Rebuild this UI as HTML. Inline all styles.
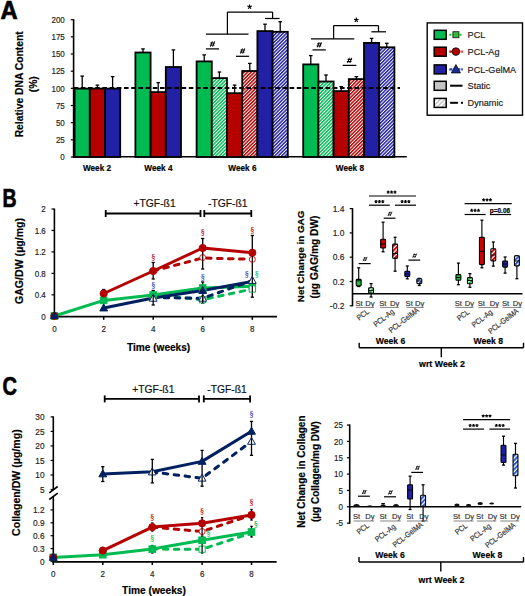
<!DOCTYPE html><html><head><meta charset="utf-8"><style>html,body{margin:0;padding:0;background:#fff;}svg{display:block;font-family:"Liberation Sans",sans-serif;}</style></head><body>
<svg width="525" height="596" viewBox="0 0 525 596">
<defs>
<pattern id="hg" patternUnits="userSpaceOnUse" width="2.45" height="2.45" patternTransform="rotate(45)"><rect width="2.45" height="2.45" fill="#fff"/><rect width="1.47" height="2.45" fill="#00BA52"/></pattern>
<pattern id="hr" patternUnits="userSpaceOnUse" width="2.45" height="2.45" patternTransform="rotate(45)"><rect width="2.45" height="2.45" fill="#fff"/><rect width="1.47" height="2.45" fill="#B50000"/></pattern>
<pattern id="hb" patternUnits="userSpaceOnUse" width="2.45" height="2.45" patternTransform="rotate(45)"><rect width="2.45" height="2.45" fill="#fff"/><rect width="1.47" height="2.45" fill="#2220A4"/></pattern>
<pattern id="hgray" patternUnits="userSpaceOnUse" width="3.2" height="3.2" patternTransform="rotate(45)"><rect width="3.2" height="3.2" fill="#fff"/><rect width="1.60" height="3.2" fill="#c8c8c8"/></pattern>
<pattern id="bhg" patternUnits="userSpaceOnUse" width="3.2" height="3.2" patternTransform="rotate(45)"><rect width="3.2" height="3.2" fill="#fff"/><rect width="1.98" height="3.2" fill="#1CC038"/></pattern>
<pattern id="bhr" patternUnits="userSpaceOnUse" width="3.2" height="3.2" patternTransform="rotate(45)"><rect width="3.2" height="3.2" fill="#fff"/><rect width="1.98" height="3.2" fill="#CC0000"/></pattern>
<pattern id="bhb" patternUnits="userSpaceOnUse" width="3.2" height="3.2" patternTransform="rotate(45)"><rect width="3.2" height="3.2" fill="#fff"/><rect width="1.98" height="3.2" fill="#2A5CD0"/></pattern>
</defs>
<rect width="525" height="596" fill="#fff"/>
<text transform="translate(9.10,10.30) scale(0.95,1)" font-size="25" font-weight="bold" text-anchor="middle" dominant-baseline="central" fill="#000" stroke="#000" stroke-width="0.7" >A</text>
<line x1="73.60" y1="19.20" x2="73.60" y2="157.80" stroke="#000" stroke-width="1.6" />
<line x1="72.80" y1="156.80" x2="406.80" y2="156.80" stroke="#000" stroke-width="1.6" />
<line x1="70.80" y1="157.00" x2="73.60" y2="157.00" stroke="#000" stroke-width="1.2" />
<text transform="translate(64.80,157.00) scale(0.87,1)" font-size="9.2" font-weight="normal" text-anchor="end" dominant-baseline="central" fill="#222" stroke="#222" stroke-width="0.18" >0</text>
<line x1="70.80" y1="139.84" x2="73.60" y2="139.84" stroke="#000" stroke-width="1.2" />
<text transform="translate(64.80,139.84) scale(0.87,1)" font-size="9.2" font-weight="normal" text-anchor="end" dominant-baseline="central" fill="#222" stroke="#222" stroke-width="0.18" >25</text>
<line x1="70.80" y1="122.67" x2="73.60" y2="122.67" stroke="#000" stroke-width="1.2" />
<text transform="translate(64.80,122.67) scale(0.87,1)" font-size="9.2" font-weight="normal" text-anchor="end" dominant-baseline="central" fill="#222" stroke="#222" stroke-width="0.18" >50</text>
<line x1="70.80" y1="105.51" x2="73.60" y2="105.51" stroke="#000" stroke-width="1.2" />
<text transform="translate(64.80,105.51) scale(0.87,1)" font-size="9.2" font-weight="normal" text-anchor="end" dominant-baseline="central" fill="#222" stroke="#222" stroke-width="0.18" >75</text>
<line x1="70.80" y1="88.35" x2="73.60" y2="88.35" stroke="#000" stroke-width="1.2" />
<text transform="translate(64.80,88.35) scale(0.87,1)" font-size="9.2" font-weight="normal" text-anchor="end" dominant-baseline="central" fill="#222" stroke="#222" stroke-width="0.18" >100</text>
<line x1="70.80" y1="71.19" x2="73.60" y2="71.19" stroke="#000" stroke-width="1.2" />
<text transform="translate(64.80,71.19) scale(0.87,1)" font-size="9.2" font-weight="normal" text-anchor="end" dominant-baseline="central" fill="#222" stroke="#222" stroke-width="0.18" >125</text>
<line x1="70.80" y1="54.02" x2="73.60" y2="54.02" stroke="#000" stroke-width="1.2" />
<text transform="translate(64.80,54.02) scale(0.87,1)" font-size="9.2" font-weight="normal" text-anchor="end" dominant-baseline="central" fill="#222" stroke="#222" stroke-width="0.18" >150</text>
<line x1="70.80" y1="36.86" x2="73.60" y2="36.86" stroke="#000" stroke-width="1.2" />
<text transform="translate(64.80,36.86) scale(0.87,1)" font-size="9.2" font-weight="normal" text-anchor="end" dominant-baseline="central" fill="#222" stroke="#222" stroke-width="0.18" >175</text>
<line x1="70.80" y1="19.70" x2="73.60" y2="19.70" stroke="#000" stroke-width="1.2" />
<text transform="translate(64.80,19.70) scale(0.87,1)" font-size="9.2" font-weight="normal" text-anchor="end" dominant-baseline="central" fill="#222" stroke="#222" stroke-width="0.18" >200</text>
<text transform="translate(19.00,84.30) rotate(-90)" font-size="10.3" font-weight="bold" text-anchor="middle" dominant-baseline="central" fill="#000" stroke="#000" stroke-width="0.18">Relative DNA Content</text>
<text transform="translate(33.00,84.30) rotate(-90)" font-size="10.3" font-weight="bold" text-anchor="middle" dominant-baseline="central" fill="#000" stroke="#000" stroke-width="0.18">(%)</text>
<line x1="82.20" y1="88.60" x2="82.20" y2="76.10" stroke="#000" stroke-width="1.3" />
<line x1="80.40" y1="76.10" x2="84.00" y2="76.10" stroke="#000" stroke-width="1.3" />
<rect x="74.60" y="88.60" width="15.20" height="68.40" fill="#00BA52" stroke="#000" stroke-width="1.8"/>
<line x1="97.40" y1="88.60" x2="97.40" y2="85.10" stroke="#000" stroke-width="1.3" />
<line x1="95.60" y1="85.10" x2="99.20" y2="85.10" stroke="#000" stroke-width="1.3" />
<rect x="89.80" y="88.60" width="15.20" height="68.40" fill="#B50000" stroke="#000" stroke-width="1.8"/>
<line x1="112.60" y1="88.60" x2="112.60" y2="76.60" stroke="#000" stroke-width="1.3" />
<line x1="110.80" y1="76.60" x2="114.40" y2="76.60" stroke="#000" stroke-width="1.3" />
<rect x="105.00" y="88.60" width="15.20" height="68.40" fill="#2220A4" stroke="#000" stroke-width="1.8"/>
<line x1="143.00" y1="52.50" x2="143.00" y2="48.90" stroke="#000" stroke-width="1.3" />
<line x1="141.20" y1="48.90" x2="144.80" y2="48.90" stroke="#000" stroke-width="1.3" />
<rect x="135.40" y="52.50" width="15.20" height="104.50" fill="#00BA52" stroke="#000" stroke-width="1.8"/>
<line x1="158.20" y1="92.10" x2="158.20" y2="82.60" stroke="#000" stroke-width="1.3" />
<line x1="156.40" y1="82.60" x2="160.00" y2="82.60" stroke="#000" stroke-width="1.3" />
<rect x="150.60" y="92.10" width="15.20" height="64.90" fill="#B50000" stroke="#000" stroke-width="1.8"/>
<line x1="173.40" y1="67.00" x2="173.40" y2="49.90" stroke="#000" stroke-width="1.3" />
<line x1="171.60" y1="49.90" x2="175.20" y2="49.90" stroke="#000" stroke-width="1.3" />
<rect x="165.80" y="67.00" width="15.20" height="90.00" fill="#2220A4" stroke="#000" stroke-width="1.8"/>
<line x1="204.20" y1="61.40" x2="204.20" y2="54.90" stroke="#000" stroke-width="1.3" />
<line x1="202.40" y1="54.90" x2="206.00" y2="54.90" stroke="#000" stroke-width="1.3" />
<rect x="196.60" y="61.40" width="15.20" height="95.60" fill="#00BA52" stroke="#000" stroke-width="1.8"/>
<line x1="219.40" y1="78.10" x2="219.40" y2="72.00" stroke="#000" stroke-width="1.3" />
<line x1="217.60" y1="72.00" x2="221.20" y2="72.00" stroke="#000" stroke-width="1.3" />
<rect x="211.80" y="78.10" width="15.20" height="78.90" fill="url(#hg)" stroke="#000" stroke-width="1.8"/>
<line x1="234.60" y1="93.20" x2="234.60" y2="85.10" stroke="#000" stroke-width="1.3" />
<line x1="232.80" y1="85.10" x2="236.40" y2="85.10" stroke="#000" stroke-width="1.3" />
<rect x="227.00" y="93.20" width="15.20" height="63.80" fill="#B50000" stroke="#000" stroke-width="1.8"/>
<line x1="249.80" y1="71.00" x2="249.80" y2="63.40" stroke="#000" stroke-width="1.3" />
<line x1="248.00" y1="63.40" x2="251.60" y2="63.40" stroke="#000" stroke-width="1.3" />
<rect x="242.20" y="71.00" width="15.20" height="86.00" fill="url(#hr)" stroke="#000" stroke-width="1.8"/>
<line x1="265.00" y1="31.10" x2="265.00" y2="24.20" stroke="#000" stroke-width="1.3" />
<line x1="263.20" y1="24.20" x2="266.80" y2="24.20" stroke="#000" stroke-width="1.3" />
<rect x="257.40" y="31.10" width="15.20" height="125.90" fill="#2220A4" stroke="#000" stroke-width="1.8"/>
<line x1="280.20" y1="31.80" x2="280.20" y2="21.70" stroke="#000" stroke-width="1.3" />
<line x1="278.40" y1="21.70" x2="282.00" y2="21.70" stroke="#000" stroke-width="1.3" />
<rect x="272.60" y="31.80" width="15.20" height="125.20" fill="url(#hb)" stroke="#000" stroke-width="1.8"/>
<line x1="310.80" y1="64.40" x2="310.80" y2="55.60" stroke="#000" stroke-width="1.3" />
<line x1="309.00" y1="55.60" x2="312.60" y2="55.60" stroke="#000" stroke-width="1.3" />
<rect x="303.20" y="64.40" width="15.20" height="92.60" fill="#00BA52" stroke="#000" stroke-width="1.8"/>
<line x1="326.00" y1="81.50" x2="326.00" y2="75.00" stroke="#000" stroke-width="1.3" />
<line x1="324.20" y1="75.00" x2="327.80" y2="75.00" stroke="#000" stroke-width="1.3" />
<rect x="318.40" y="81.50" width="15.20" height="75.50" fill="url(#hg)" stroke="#000" stroke-width="1.8"/>
<line x1="341.20" y1="91.10" x2="341.20" y2="86.60" stroke="#000" stroke-width="1.3" />
<line x1="339.40" y1="86.60" x2="343.00" y2="86.60" stroke="#000" stroke-width="1.3" />
<rect x="333.60" y="91.10" width="15.20" height="65.90" fill="#B50000" stroke="#000" stroke-width="1.8"/>
<line x1="356.40" y1="79.10" x2="356.40" y2="76.60" stroke="#000" stroke-width="1.3" />
<line x1="354.60" y1="76.60" x2="358.20" y2="76.60" stroke="#000" stroke-width="1.3" />
<rect x="348.80" y="79.10" width="15.20" height="77.90" fill="url(#hr)" stroke="#000" stroke-width="1.8"/>
<line x1="371.60" y1="42.90" x2="371.60" y2="38.40" stroke="#000" stroke-width="1.3" />
<line x1="369.80" y1="38.40" x2="373.40" y2="38.40" stroke="#000" stroke-width="1.3" />
<rect x="364.00" y="42.90" width="15.20" height="114.10" fill="#2220A4" stroke="#000" stroke-width="1.8"/>
<line x1="386.80" y1="47.30" x2="386.80" y2="43.30" stroke="#000" stroke-width="1.3" />
<line x1="385.00" y1="43.30" x2="388.60" y2="43.30" stroke="#000" stroke-width="1.3" />
<rect x="379.20" y="47.30" width="15.20" height="109.70" fill="url(#hb)" stroke="#000" stroke-width="1.8"/>
<line x1="73.60" y1="88.00" x2="400.00" y2="88.00" stroke="#000" stroke-width="2.2" stroke-dasharray="4.6,2.6"/>
<text transform="translate(97.00,167.60) scale(0.96,1)" font-size="8.6" font-weight="bold" text-anchor="middle" dominant-baseline="central" fill="#000" stroke="#000" stroke-width="0.18" >Week 2</text>
<text transform="translate(158.40,167.60) scale(0.96,1)" font-size="8.6" font-weight="bold" text-anchor="middle" dominant-baseline="central" fill="#000" stroke="#000" stroke-width="0.18" >Week 4</text>
<text transform="translate(242.40,167.60) scale(0.96,1)" font-size="8.6" font-weight="bold" text-anchor="middle" dominant-baseline="central" fill="#000" stroke="#000" stroke-width="0.18" >Week 6</text>
<text transform="translate(349.90,167.60) scale(0.96,1)" font-size="8.6" font-weight="bold" text-anchor="middle" dominant-baseline="central" fill="#000" stroke="#000" stroke-width="0.18" >Week 8</text>
<line x1="205.90" y1="34.20" x2="248.50" y2="34.20" stroke="#000" stroke-width="1.25" />
<line x1="227.40" y1="34.20" x2="227.40" y2="12.00" stroke="#000" stroke-width="1.25" />
<line x1="227.40" y1="12.00" x2="272.60" y2="12.00" stroke="#000" stroke-width="1.25" />
<line x1="272.60" y1="12.00" x2="272.60" y2="18.50" stroke="#000" stroke-width="1.25" />
<line x1="265.00" y1="18.50" x2="279.60" y2="18.50" stroke="#000" stroke-width="1.25" />
<path d="M249.60,6.80L249.60,4.40M249.60,6.80L251.88,6.06M249.60,6.80L251.01,8.74M249.60,6.80L248.19,8.74M249.60,6.80L247.32,6.06" stroke="#000" stroke-width="1.15" stroke-linecap="butt" fill="none"/>
<line x1="205.90" y1="48.90" x2="219.00" y2="48.90" stroke="#000" stroke-width="1.25" />
<path d="M212.30,41.40L210.50,46.60M214.50,41.40L212.70,46.60M210.40,43.00L215.00,43.00M209.80,45.10L214.40,45.10" stroke="#000" stroke-width="1.0" fill="none"/>
<line x1="236.00" y1="56.30" x2="249.10" y2="56.30" stroke="#000" stroke-width="1.25" />
<path d="M242.40,48.40L240.60,53.60M244.60,48.40L242.80,53.60M240.50,50.00L245.10,50.00M239.90,52.10L244.50,52.10" stroke="#000" stroke-width="1.0" fill="none"/>
<line x1="311.00" y1="38.80" x2="354.30" y2="38.80" stroke="#000" stroke-width="1.25" />
<line x1="333.60" y1="38.80" x2="333.60" y2="25.60" stroke="#000" stroke-width="1.25" />
<line x1="333.60" y1="25.60" x2="378.50" y2="25.60" stroke="#000" stroke-width="1.25" />
<line x1="378.50" y1="25.60" x2="378.50" y2="31.80" stroke="#000" stroke-width="1.25" />
<line x1="371.40" y1="31.80" x2="386.00" y2="31.80" stroke="#000" stroke-width="1.25" />
<path d="M356.30,20.00L356.30,17.60M356.30,20.00L358.58,19.26M356.30,20.00L357.71,21.94M356.30,20.00L354.89,21.94M356.30,20.00L354.02,19.26" stroke="#000" stroke-width="1.15" stroke-linecap="butt" fill="none"/>
<line x1="312.50" y1="49.90" x2="325.80" y2="49.90" stroke="#000" stroke-width="1.25" />
<path d="M319.10,42.20L317.30,47.40M321.30,42.20L319.50,47.40M317.20,43.80L321.80,43.80M316.60,45.90L321.20,45.90" stroke="#000" stroke-width="1.0" fill="none"/>
<line x1="342.70" y1="65.40" x2="356.30" y2="65.40" stroke="#000" stroke-width="1.25" />
<path d="M349.40,57.80L347.60,63.00M351.60,57.80L349.80,63.00M347.50,59.40L352.10,59.40M346.90,61.50L351.50,61.50" stroke="#000" stroke-width="1.0" fill="none"/>
<rect x="427.2" y="22.9" width="95.3" height="92.3" fill="#fff" stroke="#000" stroke-width="1.4"/>
<rect x="434.2" y="30.30" width="12.0" height="9.0" fill="#00BA52" stroke="#000" stroke-width="1.5"/>
<rect x="434.2" y="47.20" width="12.0" height="9.0" fill="#B50000" stroke="#000" stroke-width="1.5"/>
<rect x="434.2" y="64.90" width="12.0" height="9.0" fill="#2220A4" stroke="#000" stroke-width="1.5"/>
<rect x="434.2" y="81.30" width="12.0" height="9.0" fill="#c4c4c4" stroke="#000" stroke-width="1.5"/>
<rect x="434.2" y="98.40" width="12.0" height="9.0" fill="url(#hgray)" stroke="#000" stroke-width="1.5"/>
<line x1="449.30" y1="34.70" x2="462.80" y2="34.70" stroke="#11cc22" stroke-width="2.0" stroke-dasharray="2,1.4"/>
<rect x="452.9" y="31.70" width="6" height="6" fill="#33bb33" stroke="#222" stroke-width="0.9"/>
<line x1="449.30" y1="51.60" x2="462.80" y2="51.60" stroke="#d01010" stroke-width="2.2" stroke-dasharray="3,1"/>
<circle cx="455.9" cy="51.60" r="3.8" fill="#B50000" stroke="#111" stroke-width="0.9"/>
<line x1="449.30" y1="69.30" x2="462.80" y2="69.30" stroke="#1a40c0" stroke-width="2.2" stroke-dasharray="3,1"/>
<polygon points="451.4,72.90 460.4,72.90 455.9,64.60" fill="#1a2aa0" stroke="#111" stroke-width="0.9"/>
<line x1="450.10" y1="85.70" x2="462.50" y2="85.70" stroke="#000" stroke-width="2.0" />
<line x1="450.10" y1="102.80" x2="458.00" y2="102.80" stroke="#000" stroke-width="2.0" />
<line x1="460.90" y1="102.80" x2="463.00" y2="102.80" stroke="#000" stroke-width="2.0" />
<text x="467.60" y="35.00" font-size="9.1" font-weight="normal" text-anchor="start" dominant-baseline="central" fill="#222" stroke="#222" stroke-width="0.18" >PCL</text>
<text x="467.60" y="51.90" font-size="9.1" font-weight="normal" text-anchor="start" dominant-baseline="central" fill="#222" stroke="#222" stroke-width="0.18" >PCL-Ag</text>
<text x="467.60" y="69.60" font-size="9.1" font-weight="normal" text-anchor="start" dominant-baseline="central" fill="#222" stroke="#222" stroke-width="0.18" >PCL-GelMA</text>
<text x="467.60" y="86.00" font-size="9.1" font-weight="normal" text-anchor="start" dominant-baseline="central" fill="#222" stroke="#222" stroke-width="0.18" >Static</text>
<text x="467.60" y="103.10" font-size="9.1" font-weight="normal" text-anchor="start" dominant-baseline="central" fill="#222" stroke="#222" stroke-width="0.18" >Dynamic</text>
<text transform="translate(9.60,198.20) scale(0.78,1)" font-size="25" font-weight="bold" text-anchor="middle" dominant-baseline="central" fill="#000" stroke="#000" stroke-width="0.7" >B</text>
<line x1="54.40" y1="208.60" x2="54.40" y2="317.10" stroke="#000" stroke-width="1.6" />
<line x1="53.60" y1="316.60" x2="277.00" y2="316.60" stroke="#000" stroke-width="1.7" />
<line x1="51.50" y1="316.30" x2="54.40" y2="316.30" stroke="#000" stroke-width="1.2" />
<text transform="translate(45.80,316.30) scale(0.87,1)" font-size="9.2" font-weight="normal" text-anchor="end" dominant-baseline="central" fill="#222" stroke="#222" stroke-width="0.18" >0</text>
<line x1="51.50" y1="294.84" x2="54.40" y2="294.84" stroke="#000" stroke-width="1.2" />
<text transform="translate(45.80,294.84) scale(0.87,1)" font-size="9.2" font-weight="normal" text-anchor="end" dominant-baseline="central" fill="#222" stroke="#222" stroke-width="0.18" >0.4</text>
<line x1="51.50" y1="273.38" x2="54.40" y2="273.38" stroke="#000" stroke-width="1.2" />
<text transform="translate(45.80,273.38) scale(0.87,1)" font-size="9.2" font-weight="normal" text-anchor="end" dominant-baseline="central" fill="#222" stroke="#222" stroke-width="0.18" >0.8</text>
<line x1="51.50" y1="251.92" x2="54.40" y2="251.92" stroke="#000" stroke-width="1.2" />
<text transform="translate(45.80,251.92) scale(0.87,1)" font-size="9.2" font-weight="normal" text-anchor="end" dominant-baseline="central" fill="#222" stroke="#222" stroke-width="0.18" >1.2</text>
<line x1="51.50" y1="230.46" x2="54.40" y2="230.46" stroke="#000" stroke-width="1.2" />
<text transform="translate(45.80,230.46) scale(0.87,1)" font-size="9.2" font-weight="normal" text-anchor="end" dominant-baseline="central" fill="#222" stroke="#222" stroke-width="0.18" >1.6</text>
<line x1="51.50" y1="209.00" x2="54.40" y2="209.00" stroke="#000" stroke-width="1.2" />
<text transform="translate(45.80,209.00) scale(0.87,1)" font-size="9.2" font-weight="normal" text-anchor="end" dominant-baseline="central" fill="#222" stroke="#222" stroke-width="0.18" >2</text>
<line x1="54.40" y1="316.60" x2="54.40" y2="319.80" stroke="#000" stroke-width="1.5" />
<text transform="translate(54.40,328.60) scale(0.87,1)" font-size="9.2" font-weight="normal" text-anchor="middle" dominant-baseline="central" fill="#222" stroke="#222" stroke-width="0.18" >0</text>
<line x1="103.70" y1="316.60" x2="103.70" y2="319.80" stroke="#000" stroke-width="1.5" />
<text transform="translate(103.70,328.60) scale(0.87,1)" font-size="9.2" font-weight="normal" text-anchor="middle" dominant-baseline="central" fill="#222" stroke="#222" stroke-width="0.18" >2</text>
<line x1="153.20" y1="316.60" x2="153.20" y2="319.80" stroke="#000" stroke-width="1.5" />
<text transform="translate(153.20,328.60) scale(0.87,1)" font-size="9.2" font-weight="normal" text-anchor="middle" dominant-baseline="central" fill="#222" stroke="#222" stroke-width="0.18" >4</text>
<line x1="202.70" y1="316.60" x2="202.70" y2="319.80" stroke="#000" stroke-width="1.5" />
<text transform="translate(202.70,328.60) scale(0.87,1)" font-size="9.2" font-weight="normal" text-anchor="middle" dominant-baseline="central" fill="#222" stroke="#222" stroke-width="0.18" >6</text>
<line x1="252.30" y1="316.60" x2="252.30" y2="319.80" stroke="#000" stroke-width="1.5" />
<text transform="translate(252.30,328.60) scale(0.87,1)" font-size="9.2" font-weight="normal" text-anchor="middle" dominant-baseline="central" fill="#222" stroke="#222" stroke-width="0.18" >8</text>
<text transform="translate(19.30,261.00) rotate(-90)" font-size="10.6" font-weight="bold" text-anchor="middle" dominant-baseline="central" fill="#000" stroke="#000" stroke-width="0.18">GAG/DW (µg/mg)</text>
<text x="158.60" y="347.20" font-size="10.1" font-weight="bold" text-anchor="middle" dominant-baseline="central" fill="#000" stroke="#000" stroke-width="0.18" >Time (weeks)</text>
<line x1="105.70" y1="213.50" x2="200.50" y2="213.50" stroke="#000" stroke-width="1.8" />
<line x1="105.70" y1="210.00" x2="105.70" y2="217.00" stroke="#000" stroke-width="1.8" />
<line x1="200.50" y1="210.00" x2="200.50" y2="217.00" stroke="#000" stroke-width="1.8" />
<line x1="204.30" y1="213.50" x2="251.30" y2="213.50" stroke="#000" stroke-width="1.8" />
<line x1="204.30" y1="210.00" x2="204.30" y2="217.00" stroke="#000" stroke-width="1.8" />
<line x1="251.30" y1="210.00" x2="251.30" y2="217.00" stroke="#000" stroke-width="1.8" />
<text x="154.60" y="203.80" font-size="10.3" font-weight="normal" text-anchor="middle" dominant-baseline="central" fill="#111" stroke="#111" stroke-width="0.18" >+TGF-ß1</text>
<text x="227.80" y="203.80" font-size="10.3" font-weight="normal" text-anchor="middle" dominant-baseline="central" fill="#111" stroke="#111" stroke-width="0.18" >-TGF-ß1</text>
<line x1="103.70" y1="289.50" x2="103.70" y2="297.00" stroke="#000" stroke-width="1.3" />
<line x1="102.10" y1="289.50" x2="105.30" y2="289.50" stroke="#000" stroke-width="1.3" />
<line x1="102.10" y1="297.00" x2="105.30" y2="297.00" stroke="#000" stroke-width="1.3" />
<line x1="153.20" y1="262.50" x2="153.20" y2="279.00" stroke="#000" stroke-width="1.3" />
<line x1="151.60" y1="262.50" x2="154.80" y2="262.50" stroke="#000" stroke-width="1.3" />
<line x1="151.60" y1="279.00" x2="154.80" y2="279.00" stroke="#000" stroke-width="1.3" />
<line x1="153.20" y1="290.50" x2="153.20" y2="305.00" stroke="#000" stroke-width="1.3" />
<line x1="151.60" y1="290.50" x2="154.80" y2="290.50" stroke="#000" stroke-width="1.3" />
<line x1="151.60" y1="305.00" x2="154.80" y2="305.00" stroke="#000" stroke-width="1.3" />
<line x1="202.70" y1="238.50" x2="202.70" y2="269.00" stroke="#000" stroke-width="1.3" />
<line x1="201.10" y1="238.50" x2="204.30" y2="238.50" stroke="#000" stroke-width="1.3" />
<line x1="201.10" y1="269.00" x2="204.30" y2="269.00" stroke="#000" stroke-width="1.3" />
<line x1="202.70" y1="282.00" x2="202.70" y2="303.00" stroke="#000" stroke-width="1.3" />
<line x1="201.10" y1="282.00" x2="204.30" y2="282.00" stroke="#000" stroke-width="1.3" />
<line x1="201.10" y1="303.00" x2="204.30" y2="303.00" stroke="#000" stroke-width="1.3" />
<line x1="252.30" y1="235.50" x2="252.30" y2="297.20" stroke="#000" stroke-width="1.3" />
<line x1="250.70" y1="235.50" x2="253.90" y2="235.50" stroke="#000" stroke-width="1.3" />
<line x1="250.70" y1="297.20" x2="253.90" y2="297.20" stroke="#000" stroke-width="1.3" />
<polyline points="54.40,316.00 103.70,300.40 153.20,295.00 202.70,288.00 252.30,286.30" fill="none" stroke="#00BA52" stroke-width="3.0" stroke-linejoin="round"/>
<polyline points="153.20,295.00 202.70,299.70 252.30,289.00" fill="none" stroke="#00BA52" stroke-width="3.0" stroke-linejoin="round" stroke-dasharray="4.6,6.4" stroke-linecap="round"/>
<polyline points="103.70,308.00 153.20,298.00 202.70,290.50 252.30,281.50" fill="none" stroke="#002060" stroke-width="3.0" stroke-linejoin="round"/>
<polyline points="153.20,297.50 202.70,298.30 252.30,280.50" fill="none" stroke="#002060" stroke-width="3.0" stroke-linejoin="round" stroke-dasharray="4.6,6.4" stroke-linecap="round"/>
<polyline points="103.70,293.50 153.20,271.00 202.70,248.00 252.30,252.80" fill="none" stroke="#B50000" stroke-width="3.0" stroke-linejoin="round"/>
<polyline points="153.20,271.00 202.70,258.00 252.30,259.30" fill="none" stroke="#B50000" stroke-width="3.0" stroke-linejoin="round" stroke-dasharray="4.6,6.4" stroke-linecap="round"/>
<rect x="51.10" y="312.70" width="6.60" height="6.60" fill="#00BA52" stroke="#00BA52" stroke-width="1"/>
<circle cx="54.40" cy="316.00" r="3.60" fill="#B50000" stroke="#B50000" stroke-width="1"/>
<polygon points="50.50,318.43 58.30,318.43 54.40,311.40" fill="#002060" stroke="#002060" stroke-width="1"/>
<rect x="100.40" y="297.10" width="6.60" height="6.60" fill="#00BA52" stroke="#00BA52" stroke-width="1"/>
<circle cx="103.70" cy="293.50" r="3.60" fill="#B50000" stroke="#B50000" stroke-width="1"/>
<polygon points="99.80,310.93 107.60,310.93 103.70,303.90" fill="#002060" stroke="#002060" stroke-width="1"/>
<rect x="149.90" y="291.70" width="6.60" height="6.60" fill="#00BA52" stroke="#00BA52" stroke-width="1"/>
<circle cx="153.20" cy="271.00" r="3.60" fill="#B50000" stroke="#B50000" stroke-width="1"/>
<rect x="199.40" y="284.70" width="6.60" height="6.60" fill="#00BA52" stroke="#00BA52" stroke-width="1"/>
<polygon points="198.80,293.43 206.60,293.43 202.70,286.40" fill="#002060" stroke="#002060" stroke-width="1"/>
<circle cx="202.70" cy="248.00" r="3.60" fill="#B50000" stroke="#B50000" stroke-width="1"/>
<rect x="249.00" y="283.00" width="6.60" height="6.60" fill="#00BA52" stroke="#00BA52" stroke-width="1"/>
<circle cx="252.30" cy="252.80" r="3.60" fill="#B50000" stroke="#B50000" stroke-width="1"/>
<polygon points="149.30,301.23 157.10,301.23 153.20,294.20" fill="#fff" stroke="#002060" stroke-width="0.95"/>
<rect x="199.60" y="296.60" width="6.20" height="6.20" fill="#fff" stroke="#00BA52" stroke-width="0.95"/>
<polygon points="198.80,301.23 206.60,301.23 202.70,294.20" fill="#fff" stroke="#002060" stroke-width="0.95"/>
<circle cx="202.70" cy="257.50" r="3.00" fill="#fff" stroke="#D81010" stroke-width="0.95"/>
<rect x="249.20" y="285.90" width="6.20" height="6.20" fill="#fff" stroke="#00BA52" stroke-width="0.95"/>
<polygon points="248.40,283.43 256.20,283.43 252.30,276.40" fill="#fff" stroke="#002060" stroke-width="0.95"/>
<circle cx="252.30" cy="259.30" r="3.00" fill="#fff" stroke="#D81010" stroke-width="0.95"/>
<line x1="153.20" y1="295.00" x2="153.20" y2="301.60" stroke="#000" stroke-width="1.2" />
<line x1="202.70" y1="296.40" x2="202.70" y2="303.00" stroke="#000" stroke-width="1.2" />
<line x1="202.70" y1="295.00" x2="202.70" y2="301.60" stroke="#000" stroke-width="1.2" />
<line x1="202.70" y1="254.20" x2="202.70" y2="260.80" stroke="#000" stroke-width="1.2" />
<line x1="252.30" y1="285.70" x2="252.30" y2="292.30" stroke="#000" stroke-width="1.2" />
<line x1="252.30" y1="277.20" x2="252.30" y2="283.80" stroke="#000" stroke-width="1.2" />
<line x1="252.30" y1="256.00" x2="252.30" y2="262.60" stroke="#000" stroke-width="1.2" />
<text x="153.20" y="257.00" font-size="8.2" font-weight="normal" text-anchor="middle" dominant-baseline="central" fill="#B50000" stroke="#B50000" stroke-width="0.1" font-family="Liberation Serif">§</text>
<text x="202.70" y="232.50" font-size="8.2" font-weight="normal" text-anchor="middle" dominant-baseline="central" fill="#B50000" stroke="#B50000" stroke-width="0.1" font-family="Liberation Serif">§</text>
<text x="252.30" y="230.00" font-size="8.2" font-weight="normal" text-anchor="middle" dominant-baseline="central" fill="#B50000" stroke="#B50000" stroke-width="0.1" font-family="Liberation Serif">§</text>
<text x="153.20" y="285.00" font-size="8.2" font-weight="normal" text-anchor="middle" dominant-baseline="central" fill="#3030c0" stroke="#3030c0" stroke-width="0.1" font-family="Liberation Serif">§</text>
<text x="202.70" y="277.00" font-size="8.2" font-weight="normal" text-anchor="middle" dominant-baseline="central" fill="#3030c0" stroke="#3030c0" stroke-width="0.1" font-family="Liberation Serif">§</text>
<text x="246.80" y="274.00" font-size="8.2" font-weight="normal" text-anchor="middle" dominant-baseline="central" fill="#3030c0" stroke="#3030c0" stroke-width="0.1" font-family="Liberation Serif">§</text>
<text x="256.80" y="274.00" font-size="8.2" font-weight="normal" text-anchor="middle" dominant-baseline="central" fill="#00BA52" stroke="#00BA52" stroke-width="0.1" font-family="Liberation Serif">§</text>
<text transform="translate(9.60,387.20) scale(0.8,1)" font-size="25" font-weight="bold" text-anchor="middle" dominant-baseline="central" fill="#000" stroke="#000" stroke-width="0.7" >C</text>
<line x1="53.30" y1="416.40" x2="53.30" y2="490.00" stroke="#000" stroke-width="1.6" />
<line x1="53.30" y1="496.50" x2="53.30" y2="562.60" stroke="#000" stroke-width="1.6" />
<line x1="49.30" y1="492.90" x2="57.70" y2="486.50" stroke="#000" stroke-width="1.6" />
<line x1="49.30" y1="499.50" x2="57.70" y2="493.10" stroke="#000" stroke-width="1.6" />
<line x1="52.50" y1="561.80" x2="276.60" y2="561.80" stroke="#000" stroke-width="1.7" />
<line x1="50.60" y1="416.90" x2="53.30" y2="416.90" stroke="#000" stroke-width="1.2" />
<text transform="translate(44.50,416.90) scale(0.9,1)" font-size="9.2" font-weight="normal" text-anchor="end" dominant-baseline="central" fill="#222" stroke="#222" stroke-width="0.18" >30</text>
<line x1="50.60" y1="431.42" x2="53.30" y2="431.42" stroke="#000" stroke-width="1.2" />
<text transform="translate(44.50,431.42) scale(0.9,1)" font-size="9.2" font-weight="normal" text-anchor="end" dominant-baseline="central" fill="#222" stroke="#222" stroke-width="0.18" >25</text>
<line x1="50.60" y1="445.94" x2="53.30" y2="445.94" stroke="#000" stroke-width="1.2" />
<text transform="translate(44.50,445.94) scale(0.9,1)" font-size="9.2" font-weight="normal" text-anchor="end" dominant-baseline="central" fill="#222" stroke="#222" stroke-width="0.18" >20</text>
<line x1="50.60" y1="460.46" x2="53.30" y2="460.46" stroke="#000" stroke-width="1.2" />
<text transform="translate(44.50,460.46) scale(0.9,1)" font-size="9.2" font-weight="normal" text-anchor="end" dominant-baseline="central" fill="#222" stroke="#222" stroke-width="0.18" >15</text>
<line x1="50.60" y1="474.98" x2="53.30" y2="474.98" stroke="#000" stroke-width="1.2" />
<text transform="translate(44.50,474.98) scale(0.9,1)" font-size="9.2" font-weight="normal" text-anchor="end" dominant-baseline="central" fill="#222" stroke="#222" stroke-width="0.18" >10</text>
<line x1="50.60" y1="489.50" x2="53.30" y2="489.50" stroke="#000" stroke-width="1.2" />
<text transform="translate(44.50,489.50) scale(0.9,1)" font-size="9.2" font-weight="normal" text-anchor="end" dominant-baseline="central" fill="#222" stroke="#222" stroke-width="0.18" >5</text>
<line x1="50.60" y1="561.50" x2="53.30" y2="561.50" stroke="#000" stroke-width="1.2" />
<text transform="translate(44.50,561.50) scale(0.9,1)" font-size="9.2" font-weight="normal" text-anchor="end" dominant-baseline="central" fill="#222" stroke="#222" stroke-width="0.18" >0</text>
<line x1="50.60" y1="548.60" x2="53.30" y2="548.60" stroke="#000" stroke-width="1.2" />
<text transform="translate(44.50,548.60) scale(0.9,1)" font-size="9.2" font-weight="normal" text-anchor="end" dominant-baseline="central" fill="#222" stroke="#222" stroke-width="0.18" >0.3</text>
<line x1="50.60" y1="535.70" x2="53.30" y2="535.70" stroke="#000" stroke-width="1.2" />
<text transform="translate(44.50,535.70) scale(0.9,1)" font-size="9.2" font-weight="normal" text-anchor="end" dominant-baseline="central" fill="#222" stroke="#222" stroke-width="0.18" >0.6</text>
<line x1="50.60" y1="522.80" x2="53.30" y2="522.80" stroke="#000" stroke-width="1.2" />
<text transform="translate(44.50,522.80) scale(0.9,1)" font-size="9.2" font-weight="normal" text-anchor="end" dominant-baseline="central" fill="#222" stroke="#222" stroke-width="0.18" >0.9</text>
<line x1="50.60" y1="509.90" x2="53.30" y2="509.90" stroke="#000" stroke-width="1.2" />
<text transform="translate(44.50,509.90) scale(0.9,1)" font-size="9.2" font-weight="normal" text-anchor="end" dominant-baseline="central" fill="#222" stroke="#222" stroke-width="0.18" >1.2</text>
<line x1="53.30" y1="561.80" x2="53.30" y2="565.00" stroke="#000" stroke-width="1.5" />
<text transform="translate(53.30,573.80) scale(0.87,1)" font-size="9.2" font-weight="normal" text-anchor="middle" dominant-baseline="central" fill="#222" stroke="#222" stroke-width="0.18" >0</text>
<line x1="102.80" y1="561.80" x2="102.80" y2="565.00" stroke="#000" stroke-width="1.5" />
<text transform="translate(102.80,573.80) scale(0.87,1)" font-size="9.2" font-weight="normal" text-anchor="middle" dominant-baseline="central" fill="#222" stroke="#222" stroke-width="0.18" >2</text>
<line x1="152.30" y1="561.80" x2="152.30" y2="565.00" stroke="#000" stroke-width="1.5" />
<text transform="translate(152.30,573.80) scale(0.87,1)" font-size="9.2" font-weight="normal" text-anchor="middle" dominant-baseline="central" fill="#222" stroke="#222" stroke-width="0.18" >4</text>
<line x1="202.10" y1="561.80" x2="202.10" y2="565.00" stroke="#000" stroke-width="1.5" />
<text transform="translate(202.10,573.80) scale(0.87,1)" font-size="9.2" font-weight="normal" text-anchor="middle" dominant-baseline="central" fill="#222" stroke="#222" stroke-width="0.18" >6</text>
<line x1="251.50" y1="561.80" x2="251.50" y2="565.00" stroke="#000" stroke-width="1.5" />
<text transform="translate(251.50,573.80) scale(0.87,1)" font-size="9.2" font-weight="normal" text-anchor="middle" dominant-baseline="central" fill="#222" stroke="#222" stroke-width="0.18" >8</text>
<text transform="translate(15.60,482.60) rotate(-90)" font-size="10.6" font-weight="bold" text-anchor="middle" dominant-baseline="central" fill="#000" stroke="#000" stroke-width="0.18">Collagen/DW (µg/mg)</text>
<text x="154.00" y="590.40" font-size="10.2" font-weight="bold" text-anchor="middle" dominant-baseline="central" fill="#000" stroke="#000" stroke-width="0.18" >Time (weeks)</text>
<line x1="104.70" y1="398.90" x2="199.00" y2="398.90" stroke="#000" stroke-width="1.8" />
<line x1="104.70" y1="395.40" x2="104.70" y2="402.40" stroke="#000" stroke-width="1.8" />
<line x1="199.00" y1="395.40" x2="199.00" y2="402.40" stroke="#000" stroke-width="1.8" />
<line x1="203.80" y1="398.90" x2="250.10" y2="398.90" stroke="#000" stroke-width="1.8" />
<line x1="203.80" y1="395.40" x2="203.80" y2="402.40" stroke="#000" stroke-width="1.8" />
<line x1="250.10" y1="395.40" x2="250.10" y2="402.40" stroke="#000" stroke-width="1.8" />
<text x="153.35" y="389.60" font-size="10.3" font-weight="normal" text-anchor="middle" dominant-baseline="central" fill="#111" stroke="#111" stroke-width="0.18" >+TGF-ß1</text>
<text x="226.95" y="389.60" font-size="10.3" font-weight="normal" text-anchor="middle" dominant-baseline="central" fill="#111" stroke="#111" stroke-width="0.18" >-TGF-ß1</text>
<line x1="102.80" y1="466.70" x2="102.80" y2="481.50" stroke="#000" stroke-width="1.3" />
<line x1="101.20" y1="466.70" x2="104.40" y2="466.70" stroke="#000" stroke-width="1.3" />
<line x1="101.20" y1="481.50" x2="104.40" y2="481.50" stroke="#000" stroke-width="1.3" />
<line x1="152.30" y1="459.40" x2="152.30" y2="482.90" stroke="#000" stroke-width="1.3" />
<line x1="150.70" y1="459.40" x2="153.90" y2="459.40" stroke="#000" stroke-width="1.3" />
<line x1="150.70" y1="482.90" x2="153.90" y2="482.90" stroke="#000" stroke-width="1.3" />
<line x1="202.10" y1="450.40" x2="202.10" y2="486.20" stroke="#000" stroke-width="1.3" />
<line x1="200.50" y1="450.40" x2="203.70" y2="450.40" stroke="#000" stroke-width="1.3" />
<line x1="200.50" y1="486.20" x2="203.70" y2="486.20" stroke="#000" stroke-width="1.3" />
<line x1="251.50" y1="421.40" x2="251.50" y2="455.30" stroke="#000" stroke-width="1.3" />
<line x1="249.90" y1="421.40" x2="253.10" y2="421.40" stroke="#000" stroke-width="1.3" />
<line x1="249.90" y1="455.30" x2="253.10" y2="455.30" stroke="#000" stroke-width="1.3" />
<line x1="102.80" y1="547.50" x2="102.80" y2="553.00" stroke="#000" stroke-width="1.3" />
<line x1="101.60" y1="547.50" x2="104.00" y2="547.50" stroke="#000" stroke-width="1.3" />
<line x1="101.60" y1="553.00" x2="104.00" y2="553.00" stroke="#000" stroke-width="1.3" />
<line x1="152.30" y1="523.00" x2="152.30" y2="531.00" stroke="#000" stroke-width="1.3" />
<line x1="151.10" y1="523.00" x2="153.50" y2="523.00" stroke="#000" stroke-width="1.3" />
<line x1="151.10" y1="531.00" x2="153.50" y2="531.00" stroke="#000" stroke-width="1.3" />
<line x1="152.30" y1="545.50" x2="152.30" y2="553.00" stroke="#000" stroke-width="1.3" />
<line x1="151.10" y1="545.50" x2="153.50" y2="545.50" stroke="#000" stroke-width="1.3" />
<line x1="151.10" y1="553.00" x2="153.50" y2="553.00" stroke="#000" stroke-width="1.3" />
<line x1="202.10" y1="517.60" x2="202.10" y2="535.00" stroke="#000" stroke-width="1.3" />
<line x1="200.90" y1="517.60" x2="203.30" y2="517.60" stroke="#000" stroke-width="1.3" />
<line x1="200.90" y1="535.00" x2="203.30" y2="535.00" stroke="#000" stroke-width="1.3" />
<line x1="202.10" y1="536.50" x2="202.10" y2="553.00" stroke="#000" stroke-width="1.3" />
<line x1="200.90" y1="536.50" x2="203.30" y2="536.50" stroke="#000" stroke-width="1.3" />
<line x1="200.90" y1="553.00" x2="203.30" y2="553.00" stroke="#000" stroke-width="1.3" />
<line x1="251.50" y1="509.50" x2="251.50" y2="520.00" stroke="#000" stroke-width="1.3" />
<line x1="250.30" y1="509.50" x2="252.70" y2="509.50" stroke="#000" stroke-width="1.3" />
<line x1="250.30" y1="520.00" x2="252.70" y2="520.00" stroke="#000" stroke-width="1.3" />
<line x1="251.50" y1="526.30" x2="251.50" y2="537.00" stroke="#000" stroke-width="1.3" />
<line x1="250.30" y1="526.30" x2="252.70" y2="526.30" stroke="#000" stroke-width="1.3" />
<line x1="250.30" y1="537.00" x2="252.70" y2="537.00" stroke="#000" stroke-width="1.3" />
<polyline points="102.80,473.90 152.30,471.80 202.10,461.40 251.50,431.30" fill="none" stroke="#002060" stroke-width="3.0" stroke-linejoin="round"/>
<polyline points="152.30,472.00 202.10,478.20 251.50,441.40" fill="none" stroke="#002060" stroke-width="3.0" stroke-linejoin="round" stroke-dasharray="4.6,6.4" stroke-linecap="round"/>
<polyline points="53.30,557.40 102.80,554.70 152.30,549.10 202.10,540.30 251.50,532.00" fill="none" stroke="#00BA52" stroke-width="3.0" stroke-linejoin="round"/>
<polyline points="152.30,549.10 202.10,549.20 251.50,533.00" fill="none" stroke="#00BA52" stroke-width="3.0" stroke-linejoin="round" stroke-dasharray="4.6,6.4" stroke-linecap="round"/>
<polyline points="102.80,550.60 152.30,527.10 202.10,523.30 251.50,514.90" fill="none" stroke="#B50000" stroke-width="3.0" stroke-linejoin="round"/>
<polyline points="152.30,527.10 202.10,531.50 251.50,515.00" fill="none" stroke="#B50000" stroke-width="3.0" stroke-linejoin="round" stroke-dasharray="4.6,6.4" stroke-linecap="round"/>
<polygon points="98.90,476.82 106.70,476.82 102.80,469.80" fill="#002060" stroke="#002060" stroke-width="1"/>
<polygon points="198.20,464.32 206.00,464.32 202.10,457.30" fill="#002060" stroke="#002060" stroke-width="1"/>
<polygon points="247.60,434.23 255.40,434.23 251.50,427.20" fill="#002060" stroke="#002060" stroke-width="1"/>
<rect x="50.00" y="554.10" width="6.60" height="6.60" fill="#00BA52" stroke="#00BA52" stroke-width="1"/>
<circle cx="53.30" cy="557.40" r="3.60" fill="#B50000" stroke="#B50000" stroke-width="1"/>
<polygon points="49.40,560.32 57.20,560.32 53.30,553.30" fill="#002060" stroke="#002060" stroke-width="1"/>
<rect x="99.50" y="551.40" width="6.60" height="6.60" fill="#00BA52" stroke="#00BA52" stroke-width="1"/>
<circle cx="102.80" cy="550.60" r="3.60" fill="#B50000" stroke="#B50000" stroke-width="1"/>
<rect x="149.00" y="545.80" width="6.60" height="6.60" fill="#00BA52" stroke="#00BA52" stroke-width="1"/>
<circle cx="152.30" cy="527.10" r="3.60" fill="#B50000" stroke="#B50000" stroke-width="1"/>
<rect x="198.80" y="537.00" width="6.60" height="6.60" fill="#00BA52" stroke="#00BA52" stroke-width="1"/>
<circle cx="202.10" cy="523.30" r="3.60" fill="#B50000" stroke="#B50000" stroke-width="1"/>
<rect x="248.20" y="528.70" width="6.60" height="6.60" fill="#00BA52" stroke="#00BA52" stroke-width="1"/>
<circle cx="251.50" cy="514.90" r="3.60" fill="#B50000" stroke="#B50000" stroke-width="1"/>
<polygon points="148.40,474.93 156.20,474.93 152.30,467.90" fill="#fff" stroke="#002060" stroke-width="0.95"/>
<polygon points="198.20,481.12 206.00,481.12 202.10,474.10" fill="#fff" stroke="#002060" stroke-width="0.95"/>
<polygon points="247.60,444.32 255.40,444.32 251.50,437.30" fill="#fff" stroke="#002060" stroke-width="0.95"/>
<rect x="199.00" y="546.10" width="6.20" height="6.20" fill="#fff" stroke="#00BA52" stroke-width="0.95"/>
<circle cx="202.10" cy="531.50" r="3.00" fill="#fff" stroke="#D81010" stroke-width="0.95"/>
<line x1="152.30" y1="468.70" x2="152.30" y2="475.30" stroke="#000" stroke-width="1.2" />
<line x1="202.10" y1="474.90" x2="202.10" y2="481.50" stroke="#000" stroke-width="1.2" />
<line x1="251.50" y1="438.10" x2="251.50" y2="444.70" stroke="#000" stroke-width="1.2" />
<line x1="202.10" y1="545.90" x2="202.10" y2="552.50" stroke="#000" stroke-width="1.2" />
<line x1="202.10" y1="528.20" x2="202.10" y2="534.80" stroke="#000" stroke-width="1.2" />
<text x="152.30" y="517.00" font-size="8.2" font-weight="normal" text-anchor="middle" dominant-baseline="central" fill="#B50000" stroke="#B50000" stroke-width="0.1" font-family="Liberation Serif">§</text>
<text x="202.10" y="511.00" font-size="8.2" font-weight="normal" text-anchor="middle" dominant-baseline="central" fill="#B50000" stroke="#B50000" stroke-width="0.1" font-family="Liberation Serif">§</text>
<text x="251.50" y="502.50" font-size="8.2" font-weight="normal" text-anchor="middle" dominant-baseline="central" fill="#B50000" stroke="#B50000" stroke-width="0.1" font-family="Liberation Serif">§</text>
<text x="152.30" y="538.60" font-size="8.2" font-weight="normal" text-anchor="middle" dominant-baseline="central" fill="#00BA52" stroke="#00BA52" stroke-width="0.1" font-family="Liberation Serif">§</text>
<text x="208.60" y="533.10" font-size="8.2" font-weight="normal" text-anchor="middle" dominant-baseline="central" fill="#00BA52" stroke="#00BA52" stroke-width="0.1" font-family="Liberation Serif">§</text>
<text x="255.90" y="524.00" font-size="8.2" font-weight="normal" text-anchor="middle" dominant-baseline="central" fill="#00BA52" stroke="#00BA52" stroke-width="0.1" font-family="Liberation Serif">§</text>
<text x="251.50" y="414.80" font-size="8.2" font-weight="normal" text-anchor="middle" dominant-baseline="central" fill="#3030c0" stroke="#3030c0" stroke-width="0.1" font-family="Liberation Serif">§</text>
<line x1="352.50" y1="208.10" x2="352.50" y2="306.30" stroke="#000" stroke-width="1.6" />
<line x1="349.70" y1="208.60" x2="352.50" y2="208.60" stroke="#000" stroke-width="1.2" />
<text transform="translate(344.40,208.60) scale(0.92,1)" font-size="9.2" font-weight="normal" text-anchor="end" dominant-baseline="central" fill="#222" stroke="#222" stroke-width="0.18" >1.4</text>
<line x1="349.70" y1="232.90" x2="352.50" y2="232.90" stroke="#000" stroke-width="1.2" />
<text transform="translate(344.40,232.90) scale(0.92,1)" font-size="9.2" font-weight="normal" text-anchor="end" dominant-baseline="central" fill="#222" stroke="#222" stroke-width="0.18" >1.0</text>
<line x1="349.70" y1="257.20" x2="352.50" y2="257.20" stroke="#000" stroke-width="1.2" />
<text transform="translate(344.40,257.20) scale(0.92,1)" font-size="9.2" font-weight="normal" text-anchor="end" dominant-baseline="central" fill="#222" stroke="#222" stroke-width="0.18" >0.6</text>
<line x1="349.70" y1="281.50" x2="352.50" y2="281.50" stroke="#000" stroke-width="1.2" />
<text transform="translate(344.40,281.50) scale(0.92,1)" font-size="9.2" font-weight="normal" text-anchor="end" dominant-baseline="central" fill="#222" stroke="#222" stroke-width="0.18" >0.2</text>
<line x1="349.70" y1="305.80" x2="352.50" y2="305.80" stroke="#000" stroke-width="1.2" />
<text transform="translate(344.40,305.80) scale(0.92,1)" font-size="9.2" font-weight="normal" text-anchor="end" dominant-baseline="central" fill="#222" stroke="#222" stroke-width="0.18" >-0.2</text>
<line x1="352.50" y1="293.70" x2="522.50" y2="293.70" stroke="#000" stroke-width="1.4" />
<text transform="translate(300.30,256.40) rotate(-90)" font-size="9.9" font-weight="bold" text-anchor="middle" dominant-baseline="central" fill="#000" stroke="#000" stroke-width="0.18">Net Change in GAG</text>
<text transform="translate(314.50,257.00) rotate(-90)" font-size="10.2" font-weight="bold" text-anchor="middle" dominant-baseline="central" fill="#000" stroke="#000" stroke-width="0.18">(µg GAG/mg DW)</text>
<line x1="358.70" y1="267.80" x2="358.70" y2="286.50" stroke="#000" stroke-width="1.15" />
<line x1="357.20" y1="267.80" x2="360.20" y2="267.80" stroke="#000" stroke-width="1.3" />
<line x1="357.20" y1="286.50" x2="360.20" y2="286.50" stroke="#000" stroke-width="1.3" />
<rect x="356.25" y="279.40" width="4.90" height="6.50" rx="0.8" fill="#1CC038" stroke="#000" stroke-width="1.1"/>
<line x1="356.25" y1="280.80" x2="361.15" y2="280.80" stroke="#000" stroke-width="0.9" />
<line x1="371.10" y1="283.60" x2="371.10" y2="297.00" stroke="#000" stroke-width="1.15" />
<line x1="369.60" y1="283.60" x2="372.60" y2="283.60" stroke="#000" stroke-width="1.3" />
<line x1="369.60" y1="297.00" x2="372.60" y2="297.00" stroke="#000" stroke-width="1.3" />
<rect x="368.65" y="287.80" width="4.90" height="5.20" rx="0.8" fill="url(#bhg)" stroke="#000" stroke-width="1.1"/>
<line x1="368.65" y1="290.50" x2="373.55" y2="290.50" stroke="#000" stroke-width="0.9" />
<line x1="383.10" y1="222.20" x2="383.10" y2="251.80" stroke="#000" stroke-width="1.15" />
<line x1="381.60" y1="222.20" x2="384.60" y2="222.20" stroke="#000" stroke-width="1.3" />
<line x1="381.60" y1="251.80" x2="384.60" y2="251.80" stroke="#000" stroke-width="1.3" />
<rect x="380.65" y="239.20" width="4.90" height="8.80" rx="0.8" fill="#CC0000" stroke="#000" stroke-width="1.1"/>
<line x1="380.65" y1="244.00" x2="385.55" y2="244.00" stroke="#000" stroke-width="0.9" />
<line x1="395.10" y1="237.30" x2="395.10" y2="271.20" stroke="#000" stroke-width="1.15" />
<line x1="393.60" y1="237.30" x2="396.60" y2="237.30" stroke="#000" stroke-width="1.3" />
<line x1="393.60" y1="271.20" x2="396.60" y2="271.20" stroke="#000" stroke-width="1.3" />
<rect x="392.65" y="244.10" width="4.90" height="14.30" rx="0.8" fill="url(#bhr)" stroke="#000" stroke-width="1.1"/>
<line x1="392.65" y1="253.50" x2="397.55" y2="253.50" stroke="#000" stroke-width="0.9" />
<line x1="407.30" y1="266.00" x2="407.30" y2="278.80" stroke="#000" stroke-width="1.15" />
<line x1="405.80" y1="266.00" x2="408.80" y2="266.00" stroke="#000" stroke-width="1.3" />
<line x1="405.80" y1="278.80" x2="408.80" y2="278.80" stroke="#000" stroke-width="1.3" />
<rect x="404.85" y="271.20" width="4.90" height="5.30" rx="0.8" fill="#1F1FA8" stroke="#000" stroke-width="1.1"/>
<line x1="404.85" y1="274.00" x2="409.75" y2="274.00" stroke="#000" stroke-width="0.9" />
<line x1="419.30" y1="278.40" x2="419.30" y2="285.50" stroke="#000" stroke-width="1.15" />
<line x1="417.80" y1="278.40" x2="420.80" y2="278.40" stroke="#000" stroke-width="1.3" />
<line x1="417.80" y1="285.50" x2="420.80" y2="285.50" stroke="#000" stroke-width="1.3" />
<rect x="416.85" y="278.80" width="4.90" height="4.80" rx="0.8" fill="url(#bhb)" stroke="#000" stroke-width="1.1"/>
<line x1="416.85" y1="281.00" x2="421.75" y2="281.00" stroke="#000" stroke-width="0.9" />
<line x1="458.40" y1="263.10" x2="458.40" y2="284.70" stroke="#000" stroke-width="1.15" />
<line x1="456.90" y1="263.10" x2="459.90" y2="263.10" stroke="#000" stroke-width="1.3" />
<line x1="456.90" y1="284.70" x2="459.90" y2="284.70" stroke="#000" stroke-width="1.3" />
<rect x="455.95" y="274.60" width="4.90" height="5.70" rx="0.8" fill="#1CC038" stroke="#000" stroke-width="1.1"/>
<line x1="455.95" y1="277.50" x2="460.85" y2="277.50" stroke="#000" stroke-width="0.9" />
<line x1="469.90" y1="273.60" x2="469.90" y2="287.30" stroke="#000" stroke-width="1.15" />
<line x1="468.40" y1="273.60" x2="471.40" y2="273.60" stroke="#000" stroke-width="1.3" />
<line x1="468.40" y1="287.30" x2="471.40" y2="287.30" stroke="#000" stroke-width="1.3" />
<rect x="467.45" y="277.60" width="4.90" height="6.10" rx="0.8" fill="url(#bhg)" stroke="#000" stroke-width="1.1"/>
<line x1="467.45" y1="280.50" x2="472.35" y2="280.50" stroke="#000" stroke-width="0.9" />
<line x1="481.90" y1="220.20" x2="481.90" y2="267.80" stroke="#000" stroke-width="1.15" />
<line x1="480.40" y1="220.20" x2="483.40" y2="220.20" stroke="#000" stroke-width="1.3" />
<line x1="480.40" y1="267.80" x2="483.40" y2="267.80" stroke="#000" stroke-width="1.3" />
<rect x="479.45" y="237.40" width="4.90" height="27.20" rx="0.8" fill="#CC0000" stroke="#000" stroke-width="1.1"/>
<line x1="479.45" y1="251.40" x2="484.35" y2="251.40" stroke="#000" stroke-width="0.9" />
<line x1="493.30" y1="242.00" x2="493.30" y2="266.10" stroke="#000" stroke-width="1.15" />
<line x1="491.80" y1="242.00" x2="494.80" y2="242.00" stroke="#000" stroke-width="1.3" />
<line x1="491.80" y1="266.10" x2="494.80" y2="266.10" stroke="#000" stroke-width="1.3" />
<rect x="490.85" y="248.80" width="4.90" height="12.10" rx="0.8" fill="url(#bhr)" stroke="#000" stroke-width="1.1"/>
<line x1="490.85" y1="255.00" x2="495.75" y2="255.00" stroke="#000" stroke-width="0.9" />
<line x1="505.10" y1="257.00" x2="505.10" y2="273.10" stroke="#000" stroke-width="1.15" />
<line x1="503.60" y1="257.00" x2="506.60" y2="257.00" stroke="#000" stroke-width="1.3" />
<line x1="503.60" y1="273.10" x2="506.60" y2="273.10" stroke="#000" stroke-width="1.3" />
<rect x="502.65" y="261.00" width="4.90" height="6.10" rx="0.8" fill="#1F1FA8" stroke="#000" stroke-width="1.1"/>
<line x1="502.65" y1="264.00" x2="507.55" y2="264.00" stroke="#000" stroke-width="0.9" />
<line x1="516.90" y1="255.80" x2="516.90" y2="278.70" stroke="#000" stroke-width="1.15" />
<line x1="515.40" y1="255.80" x2="518.40" y2="255.80" stroke="#000" stroke-width="1.3" />
<line x1="515.40" y1="278.70" x2="518.40" y2="278.70" stroke="#000" stroke-width="1.3" />
<rect x="514.45" y="255.80" width="4.90" height="10.10" rx="0.8" fill="url(#bhb)" stroke="#000" stroke-width="1.1"/>
<line x1="514.45" y1="261.00" x2="519.35" y2="261.00" stroke="#000" stroke-width="0.9" />
<line x1="358.70" y1="263.60" x2="370.70" y2="263.60" stroke="#000" stroke-width="1.2" />
<path d="M364.90,256.90L363.10,261.10M367.10,256.90L365.30,261.10M363.80,258.00L366.80,258.00M363.20,260.10L366.20,260.10" stroke="#000" stroke-width="0.8" fill="none"/>
<line x1="383.70" y1="218.20" x2="395.50" y2="218.20" stroke="#000" stroke-width="1.2" />
<path d="M389.80,211.70L388.00,215.90M392.00,211.70L390.20,215.90M388.70,212.80L391.70,212.80M388.10,214.90L391.10,214.90" stroke="#000" stroke-width="0.8" fill="none"/>
<line x1="408.40" y1="260.10" x2="420.20" y2="260.10" stroke="#000" stroke-width="1.2" />
<path d="M414.50,253.50L412.70,257.70M416.70,253.50L414.90,257.70M413.40,254.60L416.40,254.60M412.80,256.70L415.80,256.70" stroke="#000" stroke-width="0.8" fill="none"/>
<line x1="369.00" y1="205.20" x2="389.80" y2="205.20" stroke="#000" stroke-width="1.2" />
<path d="M376.00,201.60L376.00,200.00M376.00,201.60L377.52,201.11M376.00,201.60L376.94,202.89M376.00,201.60L375.06,202.89M376.00,201.60L374.48,201.11" stroke="#000" stroke-width="1.05" stroke-linecap="butt" fill="none"/>
<path d="M379.40,201.60L379.40,200.00M379.40,201.60L380.92,201.11M379.40,201.60L380.34,202.89M379.40,201.60L378.46,202.89M379.40,201.60L377.88,201.11" stroke="#000" stroke-width="1.05" stroke-linecap="butt" fill="none"/>
<path d="M382.80,201.60L382.80,200.00M382.80,201.60L384.32,201.11M382.80,201.60L383.74,202.89M382.80,201.60L381.86,202.89M382.80,201.60L381.28,201.11" stroke="#000" stroke-width="1.05" stroke-linecap="butt" fill="none"/>
<line x1="395.00" y1="205.20" x2="416.00" y2="205.20" stroke="#000" stroke-width="1.2" />
<path d="M402.10,201.60L402.10,200.00M402.10,201.60L403.62,201.11M402.10,201.60L403.04,202.89M402.10,201.60L401.16,202.89M402.10,201.60L400.58,201.11" stroke="#000" stroke-width="1.05" stroke-linecap="butt" fill="none"/>
<path d="M405.50,201.60L405.50,200.00M405.50,201.60L407.02,201.11M405.50,201.60L406.44,202.89M405.50,201.60L404.56,202.89M405.50,201.60L403.98,201.11" stroke="#000" stroke-width="1.05" stroke-linecap="butt" fill="none"/>
<path d="M408.90,201.60L408.90,200.00M408.90,201.60L410.42,201.11M408.90,201.60L409.84,202.89M408.90,201.60L407.96,202.89M408.90,201.60L407.38,201.11" stroke="#000" stroke-width="1.05" stroke-linecap="butt" fill="none"/>
<line x1="369.00" y1="196.00" x2="416.00" y2="196.00" stroke="#000" stroke-width="1.2" />
<path d="M388.20,192.20L388.20,190.60M388.20,192.20L389.72,191.71M388.20,192.20L389.14,193.49M388.20,192.20L387.26,193.49M388.20,192.20L386.68,191.71" stroke="#000" stroke-width="1.05" stroke-linecap="butt" fill="none"/>
<path d="M391.60,192.20L391.60,190.60M391.60,192.20L393.12,191.71M391.60,192.20L392.54,193.49M391.60,192.20L390.66,193.49M391.60,192.20L390.08,191.71" stroke="#000" stroke-width="1.05" stroke-linecap="butt" fill="none"/>
<path d="M395.00,192.20L395.00,190.60M395.00,192.20L396.52,191.71M395.00,192.20L395.94,193.49M395.00,192.20L394.06,193.49M395.00,192.20L393.48,191.71" stroke="#000" stroke-width="1.05" stroke-linecap="butt" fill="none"/>
<line x1="464.60" y1="214.50" x2="485.60" y2="214.50" stroke="#000" stroke-width="1.2" />
<path d="M471.70,210.40L471.70,208.80M471.70,210.40L473.22,209.91M471.70,210.40L472.64,211.69M471.70,210.40L470.76,211.69M471.70,210.40L470.18,209.91" stroke="#000" stroke-width="1.05" stroke-linecap="butt" fill="none"/>
<path d="M475.10,210.40L475.10,208.80M475.10,210.40L476.62,209.91M475.10,210.40L476.04,211.69M475.10,210.40L474.16,211.69M475.10,210.40L473.58,209.91" stroke="#000" stroke-width="1.05" stroke-linecap="butt" fill="none"/>
<path d="M478.50,210.40L478.50,208.80M478.50,210.40L480.02,209.91M478.50,210.40L479.44,211.69M478.50,210.40L477.56,211.69M478.50,210.40L476.98,209.91" stroke="#000" stroke-width="1.05" stroke-linecap="butt" fill="none"/>
<line x1="489.80" y1="214.50" x2="511.10" y2="214.50" stroke="#000" stroke-width="1.2" />
<text x="499.95" y="210.80" font-size="6.5" font-weight="bold" text-anchor="middle" dominant-baseline="central" fill="#000" stroke="#000" stroke-width="0.18" >p=0.06</text>
<line x1="464.60" y1="203.70" x2="511.70" y2="203.70" stroke="#000" stroke-width="1.2" />
<path d="M483.65,199.90L483.65,198.30M483.65,199.90L485.17,199.41M483.65,199.90L484.59,201.19M483.65,199.90L482.71,201.19M483.65,199.90L482.13,199.41" stroke="#000" stroke-width="1.05" stroke-linecap="butt" fill="none"/>
<path d="M487.05,199.90L487.05,198.30M487.05,199.90L488.57,199.41M487.05,199.90L487.99,201.19M487.05,199.90L486.11,201.19M487.05,199.90L485.53,199.41" stroke="#000" stroke-width="1.05" stroke-linecap="butt" fill="none"/>
<path d="M490.45,199.90L490.45,198.30M490.45,199.90L491.97,199.41M490.45,199.90L491.39,201.19M490.45,199.90L489.51,201.19M490.45,199.90L488.93,199.41" stroke="#000" stroke-width="1.05" stroke-linecap="butt" fill="none"/>
<text x="359.10" y="303.30" font-size="7.6" font-weight="normal" text-anchor="middle" dominant-baseline="central" fill="#333" stroke="#333" stroke-width="0.18" >St</text>
<text x="369.90" y="303.30" font-size="7.6" font-weight="normal" text-anchor="middle" dominant-baseline="central" fill="#333" stroke="#333" stroke-width="0.18" >Dy</text>
<line x1="356.20" y1="307.40" x2="374.00" y2="307.40" stroke="#777" stroke-width="0.9" />
<text x="382.90" y="303.30" font-size="7.6" font-weight="normal" text-anchor="middle" dominant-baseline="central" fill="#333" stroke="#333" stroke-width="0.18" >St</text>
<text x="394.60" y="303.30" font-size="7.6" font-weight="normal" text-anchor="middle" dominant-baseline="central" fill="#333" stroke="#333" stroke-width="0.18" >Dy</text>
<line x1="380.00" y1="307.40" x2="398.70" y2="307.40" stroke="#777" stroke-width="0.9" />
<text x="409.20" y="303.30" font-size="7.6" font-weight="normal" text-anchor="middle" dominant-baseline="central" fill="#333" stroke="#333" stroke-width="0.18" >St</text>
<text x="419.70" y="303.30" font-size="7.6" font-weight="normal" text-anchor="middle" dominant-baseline="central" fill="#333" stroke="#333" stroke-width="0.18" >Dy</text>
<line x1="406.30" y1="307.40" x2="423.80" y2="307.40" stroke="#777" stroke-width="0.9" />
<text x="458.30" y="303.30" font-size="7.6" font-weight="normal" text-anchor="middle" dominant-baseline="central" fill="#333" stroke="#333" stroke-width="0.18" >St</text>
<text x="469.50" y="303.30" font-size="7.6" font-weight="normal" text-anchor="middle" dominant-baseline="central" fill="#333" stroke="#333" stroke-width="0.18" >Dy</text>
<line x1="455.40" y1="307.40" x2="473.60" y2="307.40" stroke="#777" stroke-width="0.9" />
<text x="481.40" y="303.30" font-size="7.6" font-weight="normal" text-anchor="middle" dominant-baseline="central" fill="#333" stroke="#333" stroke-width="0.18" >St</text>
<text x="494.30" y="303.30" font-size="7.6" font-weight="normal" text-anchor="middle" dominant-baseline="central" fill="#333" stroke="#333" stroke-width="0.18" >Dy</text>
<line x1="478.50" y1="307.40" x2="498.40" y2="307.40" stroke="#777" stroke-width="0.9" />
<text x="505.50" y="303.30" font-size="7.6" font-weight="normal" text-anchor="middle" dominant-baseline="central" fill="#333" stroke="#333" stroke-width="0.18" >St</text>
<text x="517.30" y="303.30" font-size="7.6" font-weight="normal" text-anchor="middle" dominant-baseline="central" fill="#333" stroke="#333" stroke-width="0.18" >Dy</text>
<line x1="502.60" y1="307.40" x2="521.40" y2="307.40" stroke="#777" stroke-width="0.9" />
<text transform="translate(368.00,310.50) rotate(-38) scale(0.87,1)" font-size="7.8" font-weight="normal" text-anchor="end" dominant-baseline="central" fill="#333" stroke="#333" stroke-width="0.18">PCL</text>
<text transform="translate(393.00,310.50) rotate(-38) scale(0.87,1)" font-size="7.8" font-weight="normal" text-anchor="end" dominant-baseline="central" fill="#333" stroke="#333" stroke-width="0.18">PCL-Ag</text>
<text transform="translate(418.00,309.00) rotate(-38) scale(0.87,1)" font-size="7.8" font-weight="normal" text-anchor="end" dominant-baseline="central" fill="#333" stroke="#333" stroke-width="0.18">PCL-GelMA</text>
<text transform="translate(468.30,311.00) rotate(-38) scale(0.87,1)" font-size="7.8" font-weight="normal" text-anchor="end" dominant-baseline="central" fill="#333" stroke="#333" stroke-width="0.18">PCL</text>
<text transform="translate(491.30,311.00) rotate(-38) scale(0.87,1)" font-size="7.8" font-weight="normal" text-anchor="end" dominant-baseline="central" fill="#333" stroke="#333" stroke-width="0.18">PCL-Ag</text>
<text transform="translate(517.50,309.80) rotate(-38) scale(0.87,1)" font-size="7.8" font-weight="normal" text-anchor="end" dominant-baseline="central" fill="#333" stroke="#333" stroke-width="0.18">PCL-GelMA</text>
<text transform="translate(390.50,341.20) scale(0.94,1)" font-size="9.2" font-weight="bold" text-anchor="middle" dominant-baseline="central" fill="#000" stroke="#000" stroke-width="0.18" >Week 6</text>
<text transform="translate(488.20,340.70) scale(0.94,1)" font-size="9.2" font-weight="bold" text-anchor="middle" dominant-baseline="central" fill="#000" stroke="#000" stroke-width="0.18" >Week 8</text>
<line x1="359.20" y1="347.80" x2="523.50" y2="347.80" stroke="#000" stroke-width="1.4" />
<line x1="359.20" y1="342.80" x2="359.20" y2="347.80" stroke="#000" stroke-width="1.4" />
<line x1="523.50" y1="342.80" x2="523.50" y2="347.80" stroke="#000" stroke-width="1.4" />
<line x1="441.30" y1="347.80" x2="441.30" y2="357.20" stroke="#000" stroke-width="1.4" />
<text x="442.00" y="363.90" font-size="8.8" font-weight="bold" text-anchor="middle" dominant-baseline="central" fill="#000" stroke="#000" stroke-width="0.18" >wrt Week 2</text>
<line x1="349.70" y1="424.40" x2="349.70" y2="523.80" stroke="#000" stroke-width="1.6" />
<line x1="346.90" y1="425.05" x2="349.70" y2="425.05" stroke="#000" stroke-width="1.2" />
<text transform="translate(343.00,425.05) scale(0.87,1)" font-size="9.2" font-weight="normal" text-anchor="end" dominant-baseline="central" fill="#222" stroke="#222" stroke-width="0.18" >25</text>
<line x1="346.90" y1="441.40" x2="349.70" y2="441.40" stroke="#000" stroke-width="1.2" />
<text transform="translate(343.00,441.40) scale(0.87,1)" font-size="9.2" font-weight="normal" text-anchor="end" dominant-baseline="central" fill="#222" stroke="#222" stroke-width="0.18" >20</text>
<line x1="346.90" y1="457.75" x2="349.70" y2="457.75" stroke="#000" stroke-width="1.2" />
<text transform="translate(343.00,457.75) scale(0.87,1)" font-size="9.2" font-weight="normal" text-anchor="end" dominant-baseline="central" fill="#222" stroke="#222" stroke-width="0.18" >15</text>
<line x1="346.90" y1="474.10" x2="349.70" y2="474.10" stroke="#000" stroke-width="1.2" />
<text transform="translate(343.00,474.10) scale(0.87,1)" font-size="9.2" font-weight="normal" text-anchor="end" dominant-baseline="central" fill="#222" stroke="#222" stroke-width="0.18" >10</text>
<line x1="346.90" y1="490.45" x2="349.70" y2="490.45" stroke="#000" stroke-width="1.2" />
<text transform="translate(343.00,490.45) scale(0.87,1)" font-size="9.2" font-weight="normal" text-anchor="end" dominant-baseline="central" fill="#222" stroke="#222" stroke-width="0.18" >5</text>
<line x1="346.90" y1="506.80" x2="349.70" y2="506.80" stroke="#000" stroke-width="1.2" />
<text transform="translate(343.00,506.80) scale(0.87,1)" font-size="9.2" font-weight="normal" text-anchor="end" dominant-baseline="central" fill="#222" stroke="#222" stroke-width="0.18" >0</text>
<line x1="346.90" y1="523.15" x2="349.70" y2="523.15" stroke="#000" stroke-width="1.2" />
<text transform="translate(343.00,523.15) scale(0.87,1)" font-size="9.2" font-weight="normal" text-anchor="end" dominant-baseline="central" fill="#222" stroke="#222" stroke-width="0.18" >-5</text>
<line x1="349.70" y1="506.80" x2="521.20" y2="506.80" stroke="#000" stroke-width="1.6" />
<text transform="translate(301.90,471.60) rotate(-90)" font-size="10" font-weight="bold" text-anchor="middle" dominant-baseline="central" fill="#000" stroke="#000" stroke-width="0.18">Net Change in Collagen</text>
<text transform="translate(315.20,471.60) rotate(-90)" font-size="10" font-weight="bold" text-anchor="middle" dominant-baseline="central" fill="#000" stroke="#000" stroke-width="0.18">(µg Collagen/mg DW)</text>
<path d="M353.10,506.8 A3.40,2.90 0 0 1 359.90,506.8 Z" fill="#111"/>
<path d="M366.80,506.8 A3.00,1.60 0 0 1 372.80,506.8 Z" fill="#111"/>
<path d="M380.30,506.8 A2.80,2.60 0 0 1 385.90,506.8 Z" fill="#111"/>
<path d="M393.00,506.8 A3.00,2.80 0 0 1 399.00,506.8 Z" fill="#111"/>
<ellipse cx="457.00" cy="505.00" rx="2.60" ry="1.60" fill="#111"/>
<ellipse cx="468.60" cy="505.30" rx="2.60" ry="1.40" fill="#111"/>
<ellipse cx="480.20" cy="503.40" rx="2.70" ry="1.50" fill="#111"/>
<ellipse cx="491.70" cy="503.50" rx="2.40" ry="1.00" fill="#111"/>
<line x1="381.30" y1="503.60" x2="384.90" y2="503.60" stroke="#000" stroke-width="1.3" />
<line x1="410.10" y1="476.20" x2="410.10" y2="509.50" stroke="#000" stroke-width="1.15" />
<line x1="408.60" y1="476.20" x2="411.60" y2="476.20" stroke="#000" stroke-width="1.3" />
<line x1="408.60" y1="509.50" x2="411.60" y2="509.50" stroke="#000" stroke-width="1.3" />
<rect x="407.65" y="484.80" width="4.90" height="14.20" rx="0.8" fill="#1F1FA8" stroke="#000" stroke-width="1.1"/>
<line x1="407.65" y1="490.10" x2="412.55" y2="490.10" stroke="#000" stroke-width="0.9" />
<line x1="423.10" y1="484.80" x2="423.10" y2="521.00" stroke="#000" stroke-width="1.15" />
<line x1="421.60" y1="484.80" x2="424.60" y2="484.80" stroke="#000" stroke-width="1.3" />
<line x1="421.60" y1="521.00" x2="424.60" y2="521.00" stroke="#000" stroke-width="1.3" />
<rect x="420.65" y="495.20" width="4.90" height="11.10" rx="0.8" fill="url(#bhb)" stroke="#000" stroke-width="1.1"/>
<line x1="503.50" y1="436.20" x2="503.50" y2="465.10" stroke="#000" stroke-width="1.15" />
<line x1="502.00" y1="436.20" x2="505.00" y2="436.20" stroke="#000" stroke-width="1.3" />
<line x1="502.00" y1="465.10" x2="505.00" y2="465.10" stroke="#000" stroke-width="1.3" />
<rect x="501.05" y="445.30" width="4.90" height="17.20" rx="0.8" fill="#1F1FA8" stroke="#000" stroke-width="1.1"/>
<line x1="501.05" y1="454.90" x2="505.95" y2="454.90" stroke="#000" stroke-width="0.9" />
<line x1="515.50" y1="443.40" x2="515.50" y2="488.00" stroke="#000" stroke-width="1.15" />
<line x1="514.00" y1="443.40" x2="517.00" y2="443.40" stroke="#000" stroke-width="1.3" />
<line x1="514.00" y1="488.00" x2="517.00" y2="488.00" stroke="#000" stroke-width="1.3" />
<rect x="513.05" y="454.30" width="4.90" height="21.50" rx="0.8" fill="url(#bhb)" stroke="#000" stroke-width="1.1"/>
<line x1="358.00" y1="496.20" x2="369.80" y2="496.20" stroke="#000" stroke-width="1.2" />
<path d="M364.10,489.90L362.30,494.10M366.30,489.90L364.50,494.10M363.00,491.00L366.00,491.00M362.40,493.10L365.40,493.10" stroke="#000" stroke-width="0.8" fill="none"/>
<line x1="384.00" y1="496.80" x2="396.00" y2="496.80" stroke="#000" stroke-width="1.2" />
<path d="M390.20,490.30L388.40,494.50M392.40,490.30L390.60,494.50M389.10,491.40L392.10,491.40M388.50,493.50L391.50,493.50" stroke="#000" stroke-width="0.8" fill="none"/>
<line x1="411.30" y1="472.40" x2="423.10" y2="472.40" stroke="#000" stroke-width="1.2" />
<path d="M417.40,465.70L415.60,469.90M419.60,465.70L417.80,469.90M416.30,466.80L419.30,466.80M415.70,468.90L418.70,468.90" stroke="#000" stroke-width="0.8" fill="none"/>
<line x1="463.10" y1="429.10" x2="484.00" y2="429.10" stroke="#000" stroke-width="1.2" />
<path d="M470.15,425.50L470.15,423.90M470.15,425.50L471.67,425.01M470.15,425.50L471.09,426.79M470.15,425.50L469.21,426.79M470.15,425.50L468.63,425.01" stroke="#000" stroke-width="1.05" stroke-linecap="butt" fill="none"/>
<path d="M473.55,425.50L473.55,423.90M473.55,425.50L475.07,425.01M473.55,425.50L474.49,426.79M473.55,425.50L472.61,426.79M473.55,425.50L472.03,425.01" stroke="#000" stroke-width="1.05" stroke-linecap="butt" fill="none"/>
<path d="M476.95,425.50L476.95,423.90M476.95,425.50L478.47,425.01M476.95,425.50L477.89,426.79M476.95,425.50L476.01,426.79M476.95,425.50L475.43,425.01" stroke="#000" stroke-width="1.05" stroke-linecap="butt" fill="none"/>
<line x1="489.40" y1="429.10" x2="510.10" y2="429.10" stroke="#000" stroke-width="1.2" />
<path d="M496.35,425.50L496.35,423.90M496.35,425.50L497.87,425.01M496.35,425.50L497.29,426.79M496.35,425.50L495.41,426.79M496.35,425.50L494.83,425.01" stroke="#000" stroke-width="1.05" stroke-linecap="butt" fill="none"/>
<path d="M499.75,425.50L499.75,423.90M499.75,425.50L501.27,425.01M499.75,425.50L500.69,426.79M499.75,425.50L498.81,426.79M499.75,425.50L498.23,425.01" stroke="#000" stroke-width="1.05" stroke-linecap="butt" fill="none"/>
<path d="M503.15,425.50L503.15,423.90M503.15,425.50L504.67,425.01M503.15,425.50L504.09,426.79M503.15,425.50L502.21,426.79M503.15,425.50L501.63,425.01" stroke="#000" stroke-width="1.05" stroke-linecap="butt" fill="none"/>
<line x1="463.10" y1="419.60" x2="510.10" y2="419.60" stroke="#000" stroke-width="1.2" />
<path d="M483.20,416.00L483.20,414.40M483.20,416.00L484.72,415.51M483.20,416.00L484.14,417.29M483.20,416.00L482.26,417.29M483.20,416.00L481.68,415.51" stroke="#000" stroke-width="1.05" stroke-linecap="butt" fill="none"/>
<path d="M486.60,416.00L486.60,414.40M486.60,416.00L488.12,415.51M486.60,416.00L487.54,417.29M486.60,416.00L485.66,417.29M486.60,416.00L485.08,415.51" stroke="#000" stroke-width="1.05" stroke-linecap="butt" fill="none"/>
<path d="M490.00,416.00L490.00,414.40M490.00,416.00L491.52,415.51M490.00,416.00L490.94,417.29M490.00,416.00L489.06,417.29M490.00,416.00L488.48,415.51" stroke="#000" stroke-width="1.05" stroke-linecap="butt" fill="none"/>
<text x="356.50" y="516.60" font-size="7.6" font-weight="normal" text-anchor="middle" dominant-baseline="central" fill="#333" stroke="#333" stroke-width="0.18" >St</text>
<text x="369.90" y="516.60" font-size="7.6" font-weight="normal" text-anchor="middle" dominant-baseline="central" fill="#333" stroke="#333" stroke-width="0.18" >Dy</text>
<line x1="353.60" y1="521.00" x2="374.00" y2="521.00" stroke="#777" stroke-width="0.9" />
<text x="383.10" y="516.60" font-size="7.6" font-weight="normal" text-anchor="middle" dominant-baseline="central" fill="#333" stroke="#333" stroke-width="0.18" >St</text>
<text x="396.70" y="516.60" font-size="7.6" font-weight="normal" text-anchor="middle" dominant-baseline="central" fill="#333" stroke="#333" stroke-width="0.18" >Dy</text>
<line x1="380.20" y1="521.00" x2="400.80" y2="521.00" stroke="#777" stroke-width="0.9" />
<text x="409.80" y="516.60" font-size="7.6" font-weight="normal" text-anchor="middle" dominant-baseline="central" fill="#333" stroke="#333" stroke-width="0.18" >St</text>
<text x="423.80" y="516.60" font-size="7.6" font-weight="normal" text-anchor="middle" dominant-baseline="central" fill="#333" stroke="#333" stroke-width="0.18" >Dy</text>
<line x1="406.90" y1="521.00" x2="427.90" y2="521.00" stroke="#777" stroke-width="0.9" />
<text x="456.50" y="516.60" font-size="7.6" font-weight="normal" text-anchor="middle" dominant-baseline="central" fill="#333" stroke="#333" stroke-width="0.18" >St</text>
<text x="469.50" y="516.60" font-size="7.6" font-weight="normal" text-anchor="middle" dominant-baseline="central" fill="#333" stroke="#333" stroke-width="0.18" >Dy</text>
<line x1="453.60" y1="521.00" x2="473.60" y2="521.00" stroke="#777" stroke-width="0.9" />
<text x="479.70" y="516.60" font-size="7.6" font-weight="normal" text-anchor="middle" dominant-baseline="central" fill="#333" stroke="#333" stroke-width="0.18" >St</text>
<text x="492.30" y="516.60" font-size="7.6" font-weight="normal" text-anchor="middle" dominant-baseline="central" fill="#333" stroke="#333" stroke-width="0.18" >Dy</text>
<line x1="476.80" y1="521.00" x2="496.40" y2="521.00" stroke="#777" stroke-width="0.9" />
<text x="503.10" y="516.60" font-size="7.6" font-weight="normal" text-anchor="middle" dominant-baseline="central" fill="#333" stroke="#333" stroke-width="0.18" >St</text>
<text x="515.20" y="516.60" font-size="7.6" font-weight="normal" text-anchor="middle" dominant-baseline="central" fill="#333" stroke="#333" stroke-width="0.18" >Dy</text>
<line x1="500.20" y1="521.00" x2="519.30" y2="521.00" stroke="#777" stroke-width="0.9" />
<text transform="translate(368.00,524.50) rotate(-38) scale(0.87,1)" font-size="7.8" font-weight="normal" text-anchor="end" dominant-baseline="central" fill="#333" stroke="#333" stroke-width="0.18">PCL</text>
<text transform="translate(394.50,525.50) rotate(-38) scale(0.87,1)" font-size="7.8" font-weight="normal" text-anchor="end" dominant-baseline="central" fill="#333" stroke="#333" stroke-width="0.18">PCL-Ag</text>
<text transform="translate(422.00,523.50) rotate(-38) scale(0.87,1)" font-size="7.8" font-weight="normal" text-anchor="end" dominant-baseline="central" fill="#333" stroke="#333" stroke-width="0.18">PCL-GelMA</text>
<text transform="translate(466.30,524.80) rotate(-38) scale(0.87,1)" font-size="7.8" font-weight="normal" text-anchor="end" dominant-baseline="central" fill="#333" stroke="#333" stroke-width="0.18">PCL</text>
<text transform="translate(489.80,525.00) rotate(-38) scale(0.87,1)" font-size="7.8" font-weight="normal" text-anchor="end" dominant-baseline="central" fill="#333" stroke="#333" stroke-width="0.18">PCL-Ag</text>
<text transform="translate(514.50,524.00) rotate(-38) scale(0.87,1)" font-size="7.8" font-weight="normal" text-anchor="end" dominant-baseline="central" fill="#333" stroke="#333" stroke-width="0.18">PCL-GelMA</text>
<text transform="translate(390.00,554.80) scale(0.94,1)" font-size="9.2" font-weight="bold" text-anchor="middle" dominant-baseline="central" fill="#000" stroke="#000" stroke-width="0.18" >Week 6</text>
<text transform="translate(487.40,555.10) scale(0.94,1)" font-size="9.2" font-weight="bold" text-anchor="middle" dominant-baseline="central" fill="#000" stroke="#000" stroke-width="0.18" >Week 8</text>
<line x1="359.00" y1="562.00" x2="523.50" y2="562.00" stroke="#000" stroke-width="1.4" />
<line x1="359.00" y1="557.10" x2="359.00" y2="562.00" stroke="#000" stroke-width="1.4" />
<line x1="523.50" y1="557.00" x2="523.50" y2="562.00" stroke="#000" stroke-width="1.4" />
<line x1="440.80" y1="562.00" x2="440.80" y2="571.50" stroke="#000" stroke-width="1.4" />
<text x="441.50" y="579.90" font-size="8.8" font-weight="bold" text-anchor="middle" dominant-baseline="central" fill="#000" stroke="#000" stroke-width="0.18" >wrt Week 2</text>
</svg></body></html>
